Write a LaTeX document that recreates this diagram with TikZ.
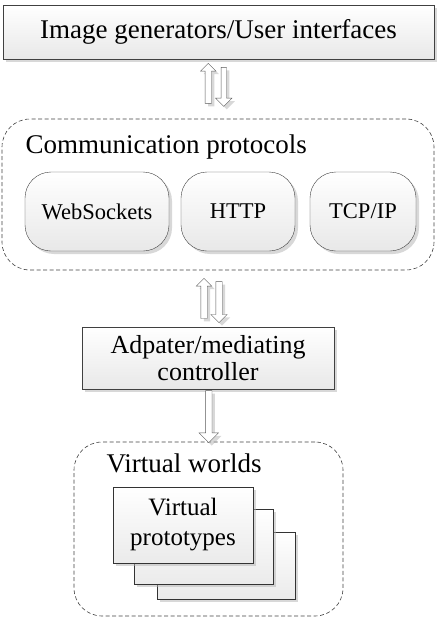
\documentclass[tikz,border=0pt]{standalone}
\usepackage{fontspec}
\setmainfont{Liberation Serif}
\usetikzlibrary{calc,shadows,shapes.arrows}

\begin{document}
\begin{tikzpicture}[x=1pt,y=-1pt,
  shade/.style={drop shadow={shadow xshift=3pt,shadow yshift=-3pt,fill=black!30,opacity=.5}},
  panel/.style={draw=black!75,top color=white,bottom color=black!9,shade,inner sep=0pt},
  group/.style={draw=black!75,line width=0.6pt,dash pattern=on 4pt off 2.5pt,rounded corners=28pt,inner sep=0pt},
  proto/.style={panel,rounded corners=26pt,minimum height=79pt},
  page/.style={draw=black!80,top color=white,bottom color=black!8,shade,inner sep=0pt},
  harrow/.style={single arrow,draw=black!65,fill=white,shade,inner sep=3pt,
    single arrow head extend=4.5pt,minimum height=40pt},
  big/.style={font=\fontsize{27}{30}\selectfont},
  small/.style={font=\fontsize{22.5}{26}\selectfont}]

\useasboundingbox (0,0) rectangle (442,624);

%top
\node[panel,minimum width=431pt,minimum height=54pt,big] (img) at (218.5,32) {Image generators/User interfaces};

%protocols
\node[group,minimum width=432pt,minimum height=151pt] (comm) at (218,194.5) {};
\node[big,anchor=base west] (commt) at (22,153) {Communication protocols};
\node[proto,minimum width=144pt,small] (ws) at (97,211.5) {WebSockets};
\node[proto,minimum width=114pt,small] (http) at (238,211.5) {HTTP};
\node[proto,minimum width=106pt,small] (tcp) at (363,211.5) {TCP/IP};

%controller
\node[panel,minimum width=252pt,minimum height=62pt,align=center,
  font=\fontsize{26}{27}\selectfont] (ad) at (208,358) {Adpater/mediating\\controller};

%virtual worlds
\node[group,minimum width=269pt,minimum height=174pt] (vw) at (208.5,529) {};
\node[big,anchor=base west] (vwt) at (103,472) {Virtual worlds};
\node[page,minimum width=138pt,minimum height=67pt] (p3) at (226,565.5) {};
\node[page,minimum width=139pt,minimum height=75pt] (p2) at (203.5,546.5) {};
\node[page,minimum width=140pt,minimum height=76pt,align=center,
  font=\fontsize{25}{30}\selectfont] (p1) at (183,525) {Virtual\\prototypes};

%arrows
\coordinate (g1) at ($(img.south)!.5!(comm.north)$);
\coordinate (g2) at ($(ad.north)!.5!(ad.north |- comm.south)$);
\coordinate (g3) at ($(ad.south)!.5!(vw.north)$);
\node[harrow,rotate=90] (up1) at ([shift={(-10,-4)}]g1) {};
\node[harrow,rotate=-90,inner sep=2.5pt,single arrow head extend=5.5pt,minimum height=39pt] (dn1) at ([shift={(5.5,-3.5)}]g1) {};
\node[harrow,rotate=90] (up2) at ([shift={(-4,1.5)}]g2) {};
\node[harrow,rotate=-90,single arrow head extend=5pt,minimum height=41pt] (dn2) at ([shift={(11,2)}]g2) {};
\node[harrow,rotate=-90,single arrow head extend=6.5pt,minimum height=52pt] (dn3) at ([shift={(0.5,-0.5)}]g3) {};

\end{tikzpicture}
\end{document}
